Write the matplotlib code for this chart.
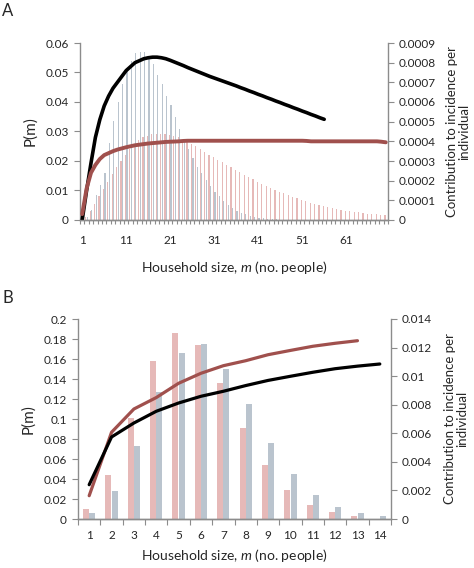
import numpy as np
import matplotlib
matplotlib.use("Agg")
import matplotlib.pyplot as plt
from matplotlib.ticker import FixedLocator, FuncFormatter

plt.rcParams['font.family'] = ['Lato', 'DejaVu Sans']
plt.rcParams['mathtext.fontset'] = 'custom'
plt.rcParams['mathtext.rm'] = 'Lato'
plt.rcParams['mathtext.it'] = 'Lato:italic'

# ---- panel A data (household size 1..70) ----
a_sizes = np.arange(1, 71)
a_pink = [0, 0.001, 0.003, 0.0055, 0.008, 0.0105, 0.013, 0.0155, 0.018, 0.020,
          0.022, 0.024, 0.0255, 0.027, 0.028, 0.0285, 0.029, 0.029, 0.029, 0.029,
          0.0288, 0.0285, 0.028, 0.0272, 0.0265, 0.0257, 0.025, 0.024, 0.023, 0.0222,
          0.0214, 0.0205, 0.0196, 0.0187, 0.0178, 0.017, 0.0162, 0.0154, 0.0146, 0.0138,
          0.013, 0.0123, 0.0116, 0.0109, 0.0102, 0.0096, 0.009, 0.0084, 0.0078, 0.0073,
          0.0068, 0.0063, 0.0059, 0.0055, 0.0051, 0.0047, 0.0044, 0.0041, 0.0038, 0.0035,
          0.0032, 0.003, 0.0028, 0.0026, 0.0024, 0.0022, 0.002, 0.0019, 0.0018, 0.0017]
a_grey = [0, 0.001, 0.0035, 0.0085, 0.012, 0.016, 0.026, 0.0335, 0.040, 0.046,
          0.051, 0.054, 0.0565, 0.057, 0.057, 0.055, 0.053, 0.049, 0.046, 0.042,
          0.039, 0.035, 0.031, 0.027, 0.024, 0.021, 0.018, 0.016, 0.0135, 0.0115,
          0.0095, 0.008, 0.0065, 0.005, 0.004, 0.0032, 0.0025, 0.002, 0.0015, 0.0011,
          0.0008, 0.0006, 0.0004, 0.0003, 0.0002, 0.0001, 0.0001, 0.0001, 0, 0,
          0, 0, 0, 0, 0, 0, 0, 0, 0, 0,
          0, 0, 0, 0, 0, 0, 0, 0, 0, 0]
a_black = [0, 0.00015, 0.00029, 0.00042, 0.00051, 0.00058, 0.00063, 0.00067, 0.0007, 0.00073,
           0.00076, 0.00078, 0.0008, 0.00081, 0.00082, 0.000825, 0.000828, 0.000828, 0.000825, 0.00082,
           0.000812, 0.000803, 0.000794, 0.000785, 0.000775, 0.000766, 0.000757, 0.000748, 0.000739, 0.00073,
           0.000722, 0.000714, 0.000706, 0.000698, 0.00069, 0.000682, 0.000673, 0.000665, 0.000656, 0.000648,
           0.000639, 0.000631, 0.000622, 0.000614, 0.000605, 0.000597, 0.000588, 0.00058, 0.000571, 0.000563,
           0.000554, 0.000546, 0.000537, 0.000529, 0.00052, 0.000512]
a_brown = [0.00003, 0.00016, 0.00024, 0.00028, 0.00031, 0.00033, 0.00034, 0.00035, 0.000358, 0.000364,
           0.00037, 0.000375, 0.00038, 0.000383, 0.000386, 0.000389, 0.000391, 0.000393, 0.000395, 0.000397,
           0.000398, 0.000399, 0.0004, 0.000402, 0.000403, 0.000403, 0.000403, 0.000403, 0.000403, 0.000403,
           0.000403, 0.000403, 0.000403, 0.000403, 0.000403, 0.000403, 0.000403, 0.000403, 0.000403, 0.000403,
           0.000403, 0.000403, 0.000403, 0.000403, 0.000403, 0.000403, 0.000403, 0.000403, 0.000403, 0.000403,
           0.000403, 0.000402, 0.0004, 0.0004, 0.0004, 0.0004, 0.0004, 0.0004, 0.0004, 0.0004,
           0.0004, 0.0004, 0.0004, 0.0004, 0.0004, 0.0004, 0.0004, 0.0004, 0.000398, 0.000395]
a_xticks = [1, 11, 21, 31, 41, 51, 61]

# ---- panel B data (household size 1..14) ----
b_sizes = np.arange(1, 15)
b_pink = [0.0103, 0.0443, 0.101, 0.158, 0.186, 0.174, 0.136, 0.091, 0.0543, 0.0293,
          0.0137, 0.0067, 0.0027, 0.0005]
b_grey = [0.0063, 0.0283, 0.0733, 0.127, 0.166, 0.175, 0.15, 0.1153, 0.076, 0.045,
          0.0243, 0.012, 0.006, 0.003]
b_black = [0.0024, 0.00574, 0.00672, 0.00754, 0.00812, 0.00859, 0.00894, 0.00934, 0.0097, 0.00999,
           0.01027, 0.01052, 0.0107, 0.01085]
b_brown = [0.00163, 0.00607, 0.0077, 0.0085, 0.0095, 0.0102, 0.01073, 0.01108, 0.0115, 0.0118,
           0.01209, 0.0123, 0.01248]

PINK = '#E6B9B8'
GREY = '#BAC4CE'
BROWN = '#A0504D'
SPINE = '#8C8C8C'
TXT = '#262626'


def fmt(v, pos):
    return '%g' % round(v, 6)


def style(ax, ax2, xpad, rlabel_x):
    for a in (ax, ax2):
        a.spines['top'].set_visible(False)
        for s in ('left', 'right', 'bottom'):
            a.spines[s].set_color(SPINE)
            a.spines[s].set_linewidth(1.0)
        a.tick_params(colors=SPINE, labelcolor=TXT, labelsize=8.5, length=4, width=0.8, pad=4)
        a.yaxis.set_major_formatter(FuncFormatter(fmt))
    ax.spines['right'].set_visible(False)
    ax2.spines['left'].set_visible(False)
    ax.set_ylabel('P(m)', fontsize=11, color=TXT, labelpad=6)
    ax2.set_ylabel('Contribution to incidence per\nindividual', fontsize=9.5,
                   color=TXT, linespacing=1.0)
    ax2.yaxis.set_label_coords(rlabel_x, 0.5)
    ax.set_xlabel('Household size, $m$ (no. people)', fontsize=10, color=TXT, labelpad=xpad)


fig = plt.figure(figsize=(4.74, 5.68), dpi=100)

# ---- panel A ----
axA = fig.add_axes([80 / 474, 1 - 220 / 568, 308 / 474, 177 / 568])
axA2 = axA.twinx()
axA.bar(a_sizes - 0.2, a_pink, width=0.28, color=PINK, linewidth=0)
axA.bar(a_sizes + 0.2, a_grey, width=0.28, color=GREY, linewidth=0)
axA2.plot(a_sizes[:len(a_black)], a_black, color='black', lw=2.6, solid_capstyle='round')
axA2.plot(a_sizes, a_brown, color=BROWN, lw=2.8, solid_capstyle='round')
axA.set_xlim(0.5, 70.5)
axA.set_ylim(0, 0.06)
axA2.set_ylim(0, 0.0009)
axA.set_yticks(np.round(np.arange(0, 0.061, 0.01), 3))
axA2.set_yticks(np.round(np.arange(0, 0.00091, 0.0001), 5))
style(axA, axA2, 9, (446 - 80) / 308)
axA.set_xticks(a_xticks)
axA.xaxis.set_minor_locator(FixedLocator(np.arange(0.5, 71, 1)))
axA.tick_params(axis='x', which='major', length=0, pad=11)
axA.tick_params(axis='x', which='minor', length=3, width=0.8, colors=SPINE)

# ---- panel B ----
axB = fig.add_axes([78 / 474, 1 - 519 / 568, 313 / 474, 200 / 568])
axB2 = axB.twinx()
axB.bar(b_sizes - 0.14, b_pink, width=0.27, color=PINK, linewidth=0)
axB.bar(b_sizes + 0.14, b_grey, width=0.27, color=GREY, linewidth=0)
axB2.plot(b_sizes[:len(b_brown)], b_brown, color=BROWN, lw=2.3, solid_capstyle='round')
axB2.plot(b_sizes, b_black, color='black', lw=2.3, solid_capstyle='round')
axB.set_xlim(0.5, 14.5)
axB.set_ylim(0, 0.2)
axB2.set_ylim(0, 0.014)
axB.set_yticks(np.round(np.arange(0, 0.201, 0.02), 3))
axB2.set_yticks(np.round(np.arange(0, 0.0141, 0.002), 4))
style(axB, axB2, 4, (444 - 78) / 313)
axB.set_xticks(b_sizes)
axB.xaxis.set_minor_locator(FixedLocator(np.arange(0.5, 15, 1)))
axB.tick_params(axis='x', which='major', length=0, pad=8)
axB.tick_params(axis='x', which='minor', length=4, width=0.8, colors=SPINE)

fig.text(0.005, 0.995, 'A', fontsize=12, va='top', ha='left', color=TXT)
fig.text(0.005, 1 - 290 / 568, 'B', fontsize=12, va='top', ha='left', color=TXT)

fig.savefig('out.png', dpi=100)
